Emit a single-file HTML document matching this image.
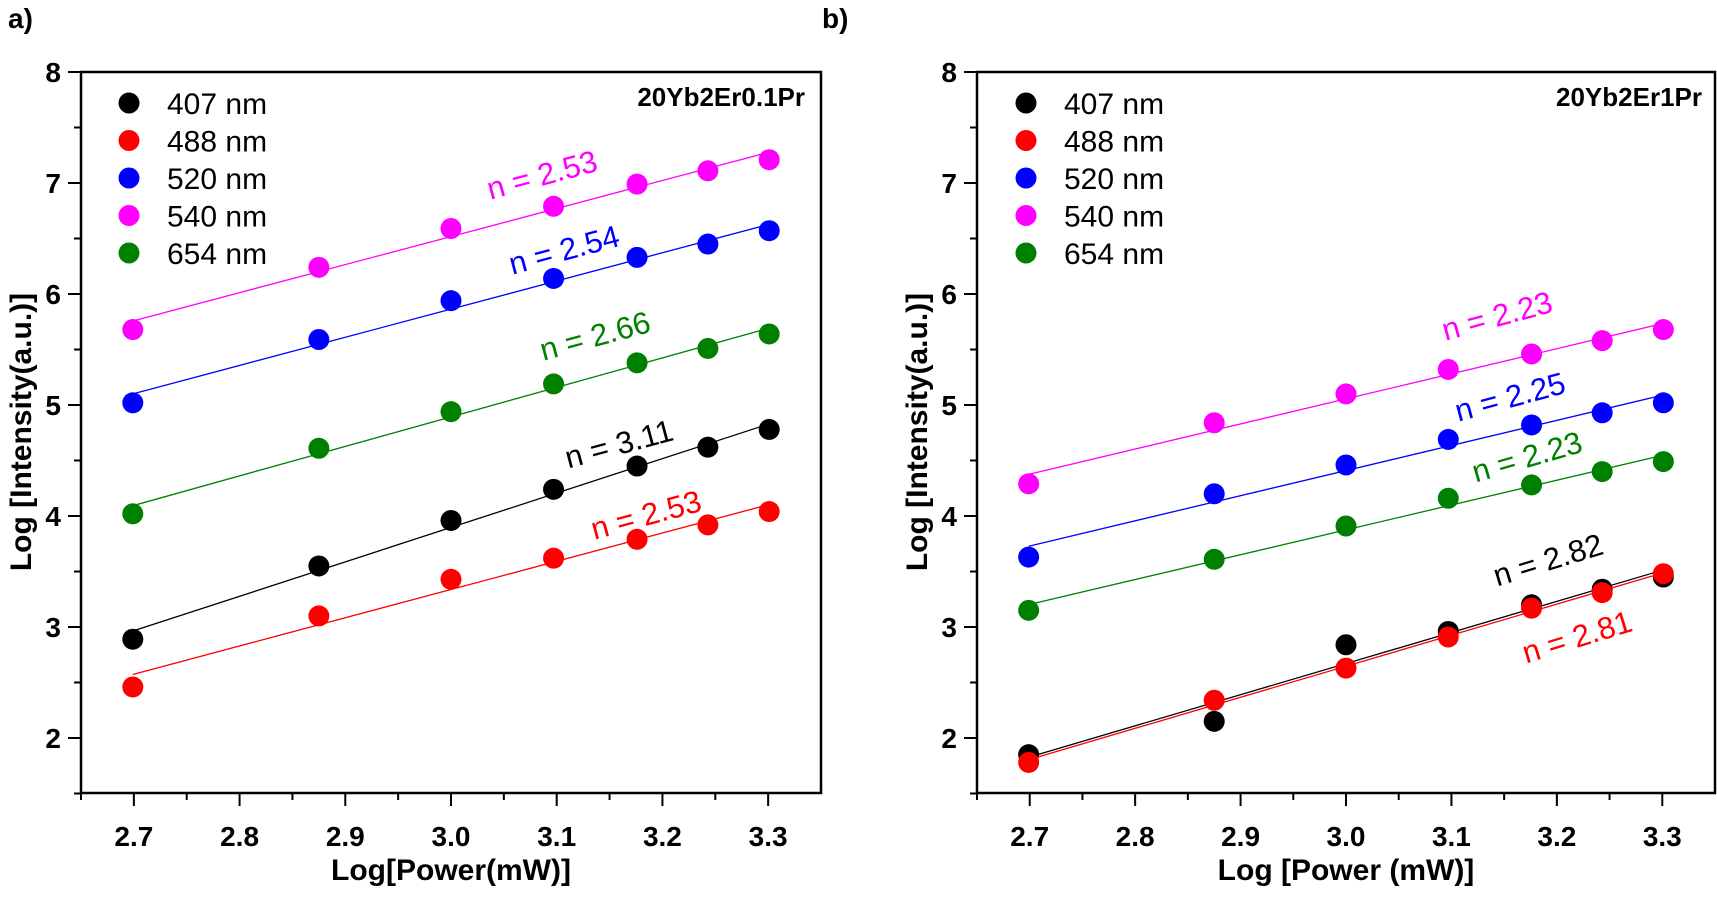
<!DOCTYPE html>
<html><head><meta charset="utf-8"><style>
html,body{margin:0;padding:0;background:#fff;}
svg{display:block;font-family:"Liberation Sans",Arial,sans-serif;}
</style></head><body>
<svg id="s" width="1717" height="909" xmlns="http://www.w3.org/2000/svg"></svg>
<script>
const s=document.getElementById('s');let h='';
const xs=[2.699,2.875,3.0,3.097,3.176,3.243,3.301];
const cols={k:'#000',r:'#ff0000',b:'#0000ff',m:'#ff00ff',g:'#008000'};
function panel(L,R,data,legX,title,titleX,xt,anns,lab,labX){
 const T=72,B=793;
 const X=v=>L+(v-2.65)/0.7*(R-L);
 const Y=v=>T+(8-v)*111;
 h+=`<rect x="${L}" y="${T}" width="${R-L}" height="${B-T}" fill="none" stroke="#000" stroke-width="2.5"/>`;
 for(let v=1.5;v<=8.01;v+=0.5){const y=Y(v);const maj=Math.abs(v-Math.round(v))<0.01;
  h+=`<line x1="${L}" x2="${L-(maj?13:7)}" y1="${y}" y2="${y}" stroke="#000" stroke-width="2"/>`;
  if(maj&&v>=2)h+=`<text x="${L-20}" y="${y+10}" font-size="28" font-weight="bold" text-anchor="end">${v}</text>`;}
 for(let i=0;i<14;i++){const v=2.65+i*0.05;const x=X(v);const maj=i%2==1;
  h+=`<line x1="${x}" x2="${x}" y1="${B}" y2="${B+(maj?13:7)}" stroke="#000" stroke-width="2"/>`;
  if(maj)h+=`<text x="${x}" y="${B+53}" font-size="28" font-weight="bold" text-anchor="middle">${v.toFixed(1)}</text>`;}
 h+=`<text x="${(L+R)/2}" y="880" font-size="30" font-weight="bold" text-anchor="middle">${xt}</text>`;
 h+=`<text transform="translate(${L-50},432) rotate(-90)" font-size="30" font-weight="bold" text-anchor="middle">Log [Intensity(a.u.)]</text>`;
 h+=`<text x="${labX}" y="28" font-size="28" font-weight="bold">${lab}</text>`;
 h+=`<text x="${titleX}" y="106" font-size="26" font-weight="bold" text-anchor="end">${title}</text>`;
 const names=[['k','407 nm'],['r','488 nm'],['b','520 nm'],['m','540 nm'],['g','654 nm']];
 names.forEach((n,i)=>{const y=103+i*37.5;h+=`<circle cx="${legX}" cy="${y}" r="10.5" fill="${cols[n[0]]}"/><text x="${legX+38}" y="${y+11}" font-size="30">${n[1]}</text>`;});
 for(const k in data){const ys=data[k];const n=ys.length;let mx=0,my=0;xs.forEach((x,i)=>{mx+=x;my+=ys[i];});mx/=n;my/=n;let a=0,b=0;xs.forEach((x,i)=>{a+=(x-mx)*(ys[i]-my);b+=(x-mx)**2;});const sl=a/b;const f=x=>my+sl*(x-mx);
  h+=`<line x1="${X(2.699)}" y1="${Y(f(2.699))}" x2="${X(3.301)}" y2="${Y(f(3.301))}" stroke="${cols[k]}" stroke-width="1.3"/>`;
  xs.forEach((x,i)=>{h+=`<circle cx="${X(x)}" cy="${Y(ys[i])}" r="10.5" fill="${cols[k]}"/>`;});}
 anns.forEach(a=>{h+=`<text transform="translate(${a[1]},${a[2]}) rotate(${a[3]})" font-size="31" fill="${cols[a[0]]}" text-anchor="middle" dominant-baseline="central">${a[4]}</text>`;});
}
panel(81,821,{m:[5.68,6.24,6.59,6.79,6.99,7.11,7.21],b:[5.02,5.59,5.94,6.14,6.33,6.45,6.57],g:[4.02,4.61,4.94,5.19,5.38,5.51,5.64],k:[2.89,3.55,3.96,4.24,4.45,4.62,4.78],r:[2.46,3.10,3.43,3.62,3.79,3.92,4.04]},
 129,'20Yb2Er0.1Pr',805,'Log[Power(mW)]',
 [['m',542,175,-15,'n = 2.53'],['b',564,250,-15,'n = 2.54'],['g',595,336,-15,'n = 2.66'],['k',619,444,-15,'n = 3.11'],['r',646,515,-15,'n = 2.53']],'a)',8);
panel(977,1715,{m:[4.29,4.84,5.10,5.32,5.46,5.58,5.68],b:[3.63,4.20,4.46,4.69,4.82,4.93,5.02],g:[3.15,3.61,3.91,4.16,4.28,4.40,4.49],k:[1.85,2.15,2.84,2.96,3.20,3.34,3.45],r:[1.78,2.34,2.63,2.91,3.17,3.31,3.48]},
 1026,'20Yb2Er1Pr',1702,'Log [Power (mW)]',
 [['m',1497,316,-15,'n = 2.23'],['b',1510,397,-15,'n = 2.25'],['g',1527,457,-16,'n = 2.23'],['k',1548,560,-17,'n = 2.82'],['r',1577,637,-17,'n = 2.81']],'b)',822);
s.innerHTML=h;
</script>
</body></html>
